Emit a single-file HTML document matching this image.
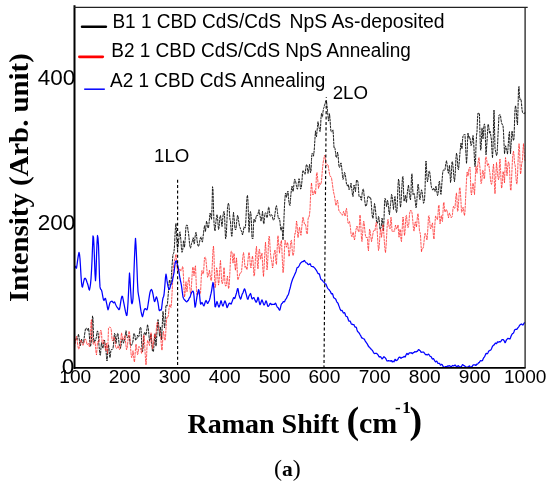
<!DOCTYPE html>
<html><head><meta charset="utf-8"><style>
html,body{margin:0;padding:0;background:#fff;}
svg{display:block;filter:blur(0.3px);}
.s{font-family:"Liberation Sans",Arial,sans-serif;}
.t{font-family:"Liberation Serif","Times New Roman",serif;font-weight:bold;}
</style></head><body>
<svg width="550" height="486" viewBox="0 0 550 486">
<rect width="550" height="486" fill="#fff"/>
<g fill="none" stroke-linejoin="round">
<path d="M74.5,344.1 75.0,342.6 75.5,339.5 76.0,338.5 76.5,338.5 77.0,339.7 77.5,338.3 78.0,336.3 78.5,334.1 79.0,337.0 79.5,341.3 80.0,345.5 80.5,345.5 81.0,342.0 81.5,339.0 82.0,340.9 82.5,342.5 83.0,343.4 83.5,343.0 84.0,339.2 84.5,335.3 85.0,331.8 85.5,328.6 86.0,328.2 86.5,328.2 87.0,328.7 87.5,330.5 88.0,330.5 88.5,328.2 89.0,331.4 89.5,338.0 90.0,343.4 90.5,346.5 91.0,343.9 91.5,339.2 92.0,329.3 92.5,315.9 93.0,318.4 93.5,336.4 94.0,342.5 94.5,339.9 95.0,341.0 95.5,340.7 96.0,338.6 96.5,336.5 97.0,332.3 97.5,330.9 98.0,332.0 98.5,338.4 99.0,345.3 99.5,351.1 100.0,355.1 100.5,355.1 101.0,347.4 101.5,342.7 102.0,344.9 102.5,347.7 103.0,348.4 103.5,344.4 104.0,341.6 104.5,340.0 105.0,343.4 105.5,346.2 106.0,350.4 106.5,357.3 107.0,361.0 107.5,356.4 108.0,348.7 108.5,344.7 109.0,348.3 109.5,354.7 110.0,357.7 110.5,353.8 111.0,349.9 111.5,349.5 112.0,349.8 112.5,349.1 113.0,348.5 113.5,344.4 114.0,338.2 114.5,333.4 115.0,334.1 115.5,339.1 116.0,343.5 116.5,340.3 117.0,336.2 117.5,333.4 118.0,333.7 118.5,337.6 119.0,343.3 119.5,345.8 120.0,346.6 120.5,348.4 121.0,345.7 121.5,342.7 122.0,338.9 122.5,340.0 123.0,341.2 123.5,343.2 124.0,341.6 124.5,339.1 125.0,336.8 125.5,333.9 126.0,330.7 126.5,333.4 127.0,337.2 127.5,337.8 128.0,336.9 128.5,336.0 129.0,335.7 129.5,337.4 130.0,342.9 130.5,345.5 131.0,345.2 131.5,345.3 132.0,344.2 132.5,343.3 133.0,340.9 133.5,335.4 134.0,333.4 134.5,333.9 135.0,336.1 135.5,340.2 136.0,339.8 136.5,339.4 137.0,338.2 137.5,335.0 138.0,337.0 138.5,336.8 139.0,336.2 139.5,332.1 140.0,328.0 140.5,327.2 141.0,328.2 141.5,339.5 142.0,349.6 142.5,352.0 143.0,348.3 143.5,341.7 144.0,334.3 144.5,332.5 145.0,332.3 145.5,334.3 146.0,335.3 146.5,332.0 147.0,328.5 147.5,324.5 148.0,326.7 148.5,330.1 149.0,335.9 149.5,341.2 150.0,340.0 150.5,336.8 151.0,333.9 151.5,339.4 152.0,346.9 152.5,351.4 153.0,351.3 153.5,351.3 154.0,345.1 154.5,338.5 155.0,333.7 155.5,339.7 156.0,346.1 156.5,340.7 157.0,332.5 157.5,325.0 158.0,319.6 158.5,322.4 159.0,329.3 159.5,336.2 160.0,332.4 160.5,326.7 161.0,334.0 161.5,339.7 162.0,330.8 162.5,319.9 163.0,311.4 163.5,316.6 164.0,322.5 164.5,327.9 165.0,323.9 165.5,314.2 166.0,305.2 166.5,305.3 167.0,306.1 167.5,303.3 168.0,297.6 168.5,290.7 169.0,283.5 169.5,279.9 170.0,282.3 170.5,284.9 171.0,283.1 171.5,274.5 172.0,266.4 172.5,259.8 173.0,254.2 173.5,253.6 174.0,251.8 174.5,245.7 175.0,235.1 175.5,226.8 176.0,223.3 176.5,232.1 177.0,244.1 177.5,249.2 178.0,246.6 178.5,241.9 179.0,237.2 179.5,232.6 180.0,231.8 180.5,236.0 181.0,241.6 181.5,249.5 182.0,252.3 182.5,251.5 183.0,247.5 183.5,240.5 184.0,243.2 184.5,247.4 185.0,241.8 185.5,233.7 186.0,226.4 186.5,225.1 187.0,225.2 187.5,225.4 188.0,230.6 188.5,232.9 189.0,237.7 189.5,243.6 190.0,246.6 190.5,248.2 191.0,246.4 191.5,243.3 192.0,242.2 192.5,240.7 193.0,237.6 193.5,238.0 194.0,244.1 194.5,243.4 195.0,237.7 195.5,233.5 196.0,232.2 196.5,234.6 197.0,239.8 197.5,243.5 198.0,245.7 198.5,246.6 199.0,245.0 199.5,242.5 200.0,239.7 200.5,237.6 201.0,236.8 201.5,239.5 202.0,241.7 202.5,241.9 203.0,237.2 203.5,233.2 204.0,229.6 204.5,225.6 205.0,227.9 205.5,231.6 206.0,226.4 206.5,221.1 207.0,222.8 207.5,225.4 208.0,228.0 208.5,227.9 209.0,223.5 209.5,218.2 210.0,213.1 210.5,214.1 211.0,217.5 211.5,219.3 212.0,208.0 212.5,186.7 213.0,189.3 213.5,208.1 214.0,222.7 214.5,228.8 215.0,231.0 215.5,226.3 216.0,221.0 216.5,216.7 217.0,214.6 217.5,216.5 218.0,223.9 218.5,229.5 219.0,227.9 219.5,221.9 220.0,216.2 220.5,215.6 221.0,219.0 221.5,223.0 222.0,226.5 222.5,221.4 223.0,216.0 223.5,212.6 224.0,211.3 224.5,213.8 225.0,226.2 225.5,238.6 226.0,238.3 226.5,230.7 227.0,219.4 227.5,207.2 228.0,204.5 228.5,203.1 229.0,205.7 229.5,213.6 230.0,219.6 230.5,221.0 231.0,229.0 231.5,236.0 232.0,236.4 232.5,226.9 233.0,217.5 233.5,212.3 234.0,217.3 234.5,222.9 235.0,228.5 235.5,230.0 236.0,228.8 236.5,223.9 237.0,219.0 237.5,215.3 238.0,215.9 238.5,220.2 239.0,222.8 239.5,226.3 240.0,227.2 240.5,229.1 241.0,230.6 241.5,230.8 242.0,232.7 242.5,235.0 243.0,233.2 243.5,230.5 244.0,226.7 244.5,227.5 245.0,228.1 245.5,227.0 246.0,217.4 246.5,205.8 247.0,197.2 247.5,195.2 248.0,201.4 248.5,218.7 249.0,232.3 249.5,226.4 250.0,213.4 250.5,211.6 251.0,214.5 251.5,223.9 252.0,237.7 252.5,239.0 253.0,238.3 253.5,224.5 254.0,219.0 254.5,220.7 255.0,222.1 255.5,220.4 256.0,217.3 256.5,215.4 257.0,215.2 257.5,215.9 258.0,213.9 258.5,211.7 259.0,209.7 259.5,212.7 260.0,215.8 260.5,218.5 261.0,221.1 261.5,219.9 262.0,215.3 262.5,211.3 263.0,216.6 263.5,223.7 264.0,223.7 264.5,218.5 265.0,213.2 265.5,212.7 266.0,213.5 266.5,215.6 267.0,217.8 267.5,215.9 268.0,211.1 268.5,207.1 269.0,207.5 269.5,211.9 270.0,215.8 270.5,216.3 271.0,215.1 271.5,214.8 272.0,215.1 272.5,216.9 273.0,219.6 273.5,220.3 274.0,219.4 274.5,217.8 275.0,213.7 275.5,209.6 276.0,206.1 276.5,205.7 277.0,208.6 277.5,212.4 278.0,216.3 278.5,219.1 279.0,218.6 279.5,218.4 280.0,222.0 280.5,227.8 281.0,230.4 281.5,228.1 282.0,226.7 282.5,233.4 283.0,240.0 283.5,231.8 284.0,217.1 284.5,205.3 285.0,197.8 285.5,193.1 286.0,193.7 286.5,197.3 287.0,195.0 287.5,191.8 288.0,191.1 288.5,197.3 289.0,202.3 289.5,204.9 290.0,205.5 290.5,199.5 291.0,193.3 291.5,188.8 292.0,186.1 292.5,188.6 293.0,191.6 293.5,189.1 294.0,183.6 294.5,179.4 295.0,179.4 295.5,181.0 296.0,183.2 296.5,186.6 297.0,188.9 297.5,189.1 298.0,186.5 298.5,181.7 299.0,178.7 299.5,180.2 300.0,183.6 300.5,189.0 301.0,188.8 301.5,186.0 302.0,180.3 302.5,172.8 303.0,170.5 303.5,170.8 304.0,172.5 304.5,173.6 305.0,174.3 305.5,171.4 306.0,166.4 306.5,164.4 307.0,165.1 307.5,168.9 308.0,173.4 308.5,171.6 309.0,168.2 309.5,164.4 310.0,167.9 310.5,172.7 311.0,171.0 311.5,159.6 312.0,153.5 312.5,153.0 313.0,153.7 313.5,156.2 314.0,152.4 314.5,146.3 315.0,138.1 315.5,130.8 316.0,135.7 316.5,136.8 317.0,131.2 317.5,126.5 318.0,121.7 318.5,125.0 319.0,127.3 319.5,129.3 320.0,131.5 320.5,128.7 321.0,117.6 321.5,113.5 322.0,116.4 322.5,117.1 323.0,111.9 323.5,108.5 324.0,107.4 324.5,105.1 325.0,104.1 325.5,102.0 326.0,100.7 326.5,101.4 327.0,105.8 327.5,110.8 328.0,116.0 328.5,121.1 329.0,118.3 329.5,113.7 330.0,118.9 330.5,127.1 331.0,131.4 331.5,131.8 332.0,131.7 332.5,131.1 333.0,129.9 333.5,137.3 334.0,147.7 334.5,147.2 335.0,148.6 335.5,152.4 336.0,156.9 336.5,157.6 337.0,155.2 337.5,152.0 338.0,154.8 338.5,160.6 339.0,166.6 339.5,167.5 340.0,166.4 340.5,164.0 341.0,162.9 341.5,165.6 342.0,170.4 342.5,176.4 343.0,179.4 343.5,178.6 344.0,175.8 344.5,172.4 345.0,173.4 345.5,175.8 346.0,180.1 346.5,184.3 347.0,185.6 347.5,185.9 348.0,184.3 348.5,186.0 349.0,189.7 349.5,189.2 350.0,187.6 350.5,185.8 351.0,183.2 351.5,186.5 352.0,190.5 352.5,195.2 353.0,196.5 353.5,191.7 354.0,185.0 354.5,187.0 355.0,188.8 355.5,191.7 356.0,185.2 356.5,180.0 357.0,180.3 357.5,180.6 358.0,182.4 358.5,188.9 359.0,196.4 359.5,197.0 360.0,196.3 360.5,196.6 361.0,199.8 361.5,200.3 362.0,194.5 362.5,190.7 363.0,189.2 363.5,189.1 364.0,194.2 364.5,198.7 365.0,202.4 365.5,206.1 366.0,206.4 366.5,205.5 367.0,202.9 367.5,198.6 368.0,196.0 368.5,196.1 369.0,196.8 369.5,198.0 370.0,197.6 370.5,197.5 371.0,199.9 371.5,206.3 372.0,213.1 372.5,217.6 373.0,218.4 373.5,213.9 374.0,209.3 374.5,203.5 375.0,205.8 375.5,209.7 376.0,215.6 376.5,221.7 377.0,223.2 377.5,223.2 378.0,220.6 378.5,216.4 379.0,217.8 379.5,223.2 380.0,229.5 380.5,228.6 381.0,227.7 381.5,224.9 382.0,218.2 382.5,220.2 383.0,225.8 383.5,231.0 384.0,219.6 384.5,203.1 385.0,198.4 385.5,199.1 386.0,202.4 386.5,206.5 387.0,204.0 387.5,200.4 388.0,202.0 388.5,207.8 389.0,212.8 389.5,214.7 390.0,208.7 390.5,204.5 391.0,200.3 391.5,194.4 392.0,195.4 392.5,199.9 393.0,204.6 393.5,209.5 394.0,203.6 394.5,198.7 395.0,196.5 395.5,202.7 396.0,210.0 396.5,212.6 397.0,210.4 397.5,198.8 398.0,185.8 398.5,179.0 399.0,181.2 399.5,189.2 400.0,202.4 400.5,207.3 401.0,203.0 401.5,194.3 402.0,184.8 402.5,177.2 403.0,176.4 403.5,189.8 404.0,201.4 404.5,200.4 405.0,197.3 405.5,195.3 406.0,200.3 406.5,202.5 407.0,196.2 407.5,191.1 408.0,187.7 408.5,185.0 409.0,189.5 409.5,194.7 410.0,198.2 410.5,200.0 411.0,191.8 411.5,176.4 412.0,173.8 412.5,184.0 413.0,194.8 413.5,194.6 414.0,193.4 414.5,194.7 415.0,199.1 415.5,203.5 416.0,207.7 416.5,205.7 417.0,198.1 417.5,189.6 418.0,184.0 418.5,185.5 419.0,191.8 419.5,197.9 420.0,199.6 420.5,196.3 421.0,192.7 421.5,189.8 422.0,191.3 422.5,194.9 423.0,199.2 423.5,203.3 424.0,202.3 424.5,200.3 425.0,190.8 425.5,170.8 426.0,161.0 426.5,167.3 427.0,178.5 427.5,182.0 428.0,178.8 428.5,175.3 429.0,171.4 429.5,170.9 430.0,174.3 430.5,179.0 431.0,184.2 431.5,187.4 432.0,188.4 432.5,189.8 433.0,190.1 433.5,188.1 434.0,189.1 434.5,189.4 435.0,191.4 435.5,188.4 436.0,186.1 436.5,188.5 437.0,192.8 437.5,195.6 438.0,194.5 438.5,188.5 439.0,182.4 439.5,181.1 440.0,186.3 440.5,192.9 441.0,194.4 441.5,188.8 442.0,181.4 442.5,174.7 443.0,170.5 443.5,170.1 444.0,170.0 444.5,170.6 445.0,169.5 445.5,166.2 446.0,162.9 446.5,160.6 447.0,163.8 447.5,168.6 448.0,171.6 448.5,173.3 449.0,168.5 449.5,165.3 450.0,172.4 450.5,182.6 451.0,179.7 451.5,170.8 452.0,161.8 452.5,161.7 453.0,166.2 453.5,172.1 454.0,178.8 454.5,181.7 455.0,176.6 455.5,168.6 456.0,157.7 456.5,153.1 457.0,155.6 457.5,161.9 458.0,168.7 458.5,169.7 459.0,164.6 459.5,158.5 460.0,152.5 460.5,147.5 461.0,143.0 461.5,147.3 462.0,148.9 462.5,140.3 463.0,136.1 463.5,135.4 464.0,134.7 464.5,134.0 465.0,134.7 465.5,144.9 466.0,155.0 466.5,163.6 467.0,156.8 467.5,141.7 468.0,133.0 468.5,137.6 469.0,138.3 469.5,136.6 470.0,138.1 470.5,142.1 471.0,145.6 471.5,145.0 472.0,142.6 472.5,139.0 473.0,135.5 473.5,138.9 474.0,148.9 474.5,161.0 475.0,166.6 475.5,162.5 476.0,145.9 476.5,135.6 477.0,131.9 477.5,118.5 478.0,113.0 478.5,113.3 479.0,112.9 479.5,115.0 480.0,134.4 480.5,149.9 481.0,150.3 481.5,139.0 482.0,127.9 482.5,132.8 483.0,138.8 483.5,132.8 484.0,124.5 484.5,124.1 485.0,126.6 485.5,142.2 486.0,154.8 486.5,149.1 487.0,141.8 487.5,133.2 488.0,124.2 488.5,125.0 489.0,128.8 489.5,133.2 490.0,131.2 490.5,133.3 491.0,137.1 491.5,140.7 492.0,151.6 492.5,157.9 493.0,149.1 493.5,126.0 494.0,110.0 494.5,126.1 495.0,148.6 495.5,151.1 496.0,153.1 496.5,155.6 497.0,154.9 497.5,146.5 498.0,134.9 498.5,124.9 499.0,115.4 499.5,114.9 500.0,114.5 500.5,115.4 501.0,119.8 501.5,122.7 502.0,123.9 502.5,125.1 503.0,125.6 503.5,131.8 504.0,142.9 504.5,153.8 505.0,150.4 505.5,145.8 506.0,147.3 506.5,148.5 507.0,151.0 507.5,154.3 508.0,148.7 508.5,140.7 509.0,134.2 509.5,131.7 510.0,144.9 510.5,153.7 511.0,145.7 511.5,137.8 512.0,131.0 512.5,133.4 513.0,138.2 513.5,140.6 514.0,138.5 514.5,123.2 515.0,109.5 515.5,105.6 516.0,108.1 516.5,113.9 517.0,121.8 517.5,125.0 518.0,108.8 518.5,89.0 519.0,86.5 519.5,96.5 520.0,99.8 520.5,98.8 521.0,99.3 521.5,103.5 522.0,109.5 522.5,112.6 523.0,113.0 523.5,113.4 524.0,113.8 524.5,113.7 525.0,111.9" stroke="#1a1a1a" stroke-width="1.0" stroke-dasharray="2.8 0.7"/>
<path d="M74.5,347.9 75.0,344.4 75.5,340.7 76.0,337.7 76.5,336.4 77.0,339.0 77.5,342.9 78.0,346.6 78.5,349.0 79.0,348.8 79.5,346.2 80.0,343.7 80.5,341.6 81.0,340.0 81.5,341.4 82.0,342.5 82.5,343.9 83.0,345.3 83.5,344.2 84.0,342.9 84.5,341.2 85.0,339.1 85.5,339.2 86.0,340.1 86.5,341.8 87.0,344.2 87.5,345.0 88.0,343.9 88.5,343.5 89.0,345.6 89.5,346.9 90.0,343.7 90.5,335.6 91.0,321.8 91.5,319.7 92.0,331.5 92.5,340.6 93.0,343.1 93.5,344.3 94.0,343.5 94.5,341.9 95.0,341.5 95.5,346.4 96.0,352.4 96.5,355.0 97.0,349.4 97.5,342.3 98.0,341.4 98.5,342.7 99.0,342.0 99.5,338.0 100.0,333.7 100.5,330.5 101.0,330.3 101.5,331.8 102.0,341.8 102.5,343.6 103.0,342.4 103.5,339.8 104.0,342.5 104.5,345.1 105.0,347.4 105.5,350.4 106.0,347.2 106.5,343.3 107.0,350.3 107.5,353.5 108.0,342.3 108.5,328.2 109.0,327.4 109.5,327.2 110.0,327.0 110.5,327.5 111.0,328.0 111.5,332.3 112.0,339.0 112.5,340.9 113.0,340.3 113.5,338.9 114.0,336.8 114.5,339.0 115.0,342.0 115.5,346.3 116.0,348.2 116.5,348.2 117.0,348.3 117.5,347.7 118.0,345.7 118.5,348.0 119.0,349.1 119.5,349.4 120.0,349.1 120.5,342.9 121.0,337.5 121.5,332.9 122.0,335.2 122.5,339.0 123.0,339.9 123.5,338.8 124.0,337.7 124.5,336.3 125.0,335.6 125.5,340.8 126.0,345.7 126.5,349.7 127.0,348.9 127.5,345.1 128.0,340.7 128.5,335.0 129.0,331.1 129.5,332.4 130.0,337.6 130.5,346.6 131.0,353.4 131.5,357.4 132.0,357.4 132.5,354.3 133.0,350.7 133.5,354.5 134.0,360.5 134.5,362.1 135.0,356.0 135.5,348.5 136.0,344.0 136.5,347.0 137.0,350.6 137.5,354.7 138.0,353.5 138.5,350.2 139.0,346.4 139.5,347.5 140.0,348.0 140.5,348.4 141.0,350.6 141.5,353.5 142.0,351.9 142.5,348.1 143.0,341.8 143.5,335.2 144.0,335.3 144.5,341.3 145.0,350.9 145.5,359.1 146.0,365.0 146.5,358.6 147.0,346.5 147.5,340.4 148.0,341.2 148.5,342.5 149.0,344.2 149.5,345.5 150.0,341.3 150.5,336.6 151.0,332.6 151.5,336.8 152.0,342.4 152.5,348.7 153.0,347.0 153.5,343.9 154.0,339.8 154.5,333.9 155.0,336.3 155.5,337.7 156.0,334.9 156.5,326.5 157.0,322.6 157.5,322.3 158.0,325.1 158.5,329.2 159.0,329.6 159.5,329.6 160.0,331.6 160.5,335.5 161.0,340.9 161.5,347.1 162.0,350.3 162.5,343.4 163.0,335.1 163.5,331.3 164.0,334.6 164.5,338.3 165.0,340.5 165.5,337.7 166.0,328.3 166.5,320.1 167.0,317.1 167.5,317.7 168.0,316.9 168.5,314.7 169.0,308.7 169.5,305.8 170.0,304.5 170.5,307.0 171.0,307.5 171.5,303.4 172.0,294.2 172.5,284.2 173.0,274.5 173.5,266.0 174.0,263.1 174.5,259.9 175.0,258.6 175.5,256.7 176.0,254.3 176.5,261.6 177.0,267.7 177.5,270.2 178.0,271.1 178.5,271.2 179.0,269.2 179.5,269.4 180.0,268.8 180.5,270.6 181.0,270.8 181.5,270.7 182.0,269.4 182.5,266.5 183.0,267.8 183.5,277.7 184.0,288.7 184.5,297.1 185.0,294.3 185.5,286.4 186.0,281.7 186.5,287.2 187.0,291.8 187.5,286.8 188.0,282.6 188.5,279.5 189.0,277.5 189.5,283.8 190.0,289.6 190.5,293.2 191.0,294.1 191.5,285.5 192.0,276.7 192.5,269.1 193.0,267.0 193.5,270.9 194.0,275.8 194.5,271.8 195.0,267.3 195.5,265.8 196.0,277.8 196.5,290.7 197.0,295.0 197.5,294.3 198.0,291.9 198.5,293.0 199.0,294.6 199.5,294.4 200.0,294.2 200.5,293.9 201.0,282.8 201.5,272.9 202.0,270.5 202.5,272.8 203.0,274.1 203.5,273.6 204.0,265.5 204.5,257.6 205.0,257.4 205.5,257.2 206.0,260.5 206.5,265.7 207.0,271.0 207.5,277.2 208.0,277.0 208.5,275.1 209.0,272.6 209.5,270.1 210.0,274.0 210.5,278.2 211.0,280.5 211.5,280.4 212.0,270.9 212.5,259.6 213.0,249.9 213.5,246.0 214.0,254.8 214.5,275.0 215.0,287.9 215.5,286.9 216.0,277.1 216.5,267.9 217.0,268.3 217.5,272.6 218.0,279.3 218.5,285.1 219.0,282.4 219.5,273.0 220.0,265.3 220.5,260.5 221.0,269.0 221.5,279.3 222.0,283.8 222.5,283.4 223.0,280.6 223.5,274.9 224.0,267.4 224.5,273.7 225.0,283.8 225.5,286.0 226.0,286.1 226.5,284.1 227.0,278.7 227.5,276.0 228.0,282.2 228.5,288.7 229.0,287.3 229.5,280.0 230.0,269.8 230.5,258.9 231.0,251.5 231.5,251.2 232.0,252.7 232.5,258.2 233.0,263.1 233.5,259.1 234.0,253.4 234.5,257.3 235.0,266.6 235.5,270.5 236.0,263.6 236.5,257.9 237.0,265.4 237.5,277.7 238.0,279.9 238.5,278.1 239.0,276.7 239.5,274.8 240.0,272.8 240.5,273.1 241.0,272.7 241.5,271.8 242.0,266.5 242.5,260.6 243.0,255.4 243.5,252.6 244.0,255.5 244.5,262.1 245.0,267.4 245.5,266.2 246.0,266.2 246.5,269.0 247.0,269.7 247.5,265.7 248.0,260.0 248.5,255.0 249.0,252.3 249.5,255.2 250.0,261.2 250.5,266.6 251.0,267.9 251.5,263.1 252.0,258.7 252.5,256.0 253.0,259.8 253.5,269.1 254.0,276.1 254.5,275.3 255.0,266.4 255.5,257.2 256.0,250.0 256.5,246.4 257.0,255.3 257.5,265.7 258.0,269.0 258.5,260.3 259.0,249.6 259.5,249.4 260.0,253.9 260.5,259.2 261.0,257.9 261.5,254.5 262.0,253.0 262.5,262.0 263.0,270.8 263.5,276.6 264.0,269.0 264.5,259.2 265.0,249.8 265.5,242.2 266.0,249.6 266.5,259.3 267.0,269.9 267.5,265.5 268.0,255.4 268.5,242.3 269.0,236.2 269.5,236.9 270.0,246.6 270.5,253.6 271.0,258.1 271.5,260.6 272.0,262.8 272.5,268.0 273.0,266.5 273.5,258.2 274.0,253.8 274.5,252.1 275.0,250.0 275.5,255.7 276.0,263.0 276.5,264.5 277.0,252.3 277.5,241.7 278.0,235.7 278.5,242.1 279.0,247.6 279.5,253.2 280.0,246.8 280.5,243.5 281.0,242.0 281.5,240.3 282.0,252.3 282.5,263.3 283.0,272.8 283.5,270.4 284.0,260.4 284.5,249.7 285.0,240.3 285.5,241.6 286.0,244.6 286.5,247.2 287.0,244.7 287.5,242.4 288.0,244.3 288.5,250.8 289.0,256.5 289.5,254.8 290.0,249.6 290.5,244.3 291.0,240.7 291.5,240.4 292.0,247.4 292.5,253.2 293.0,255.7 293.5,254.4 294.0,250.7 294.5,237.1 295.0,232.9 295.5,233.3 296.0,228.0 296.5,221.0 297.0,223.6 297.5,231.7 298.0,237.7 298.5,234.3 299.0,230.4 299.5,227.2 300.0,229.9 300.5,233.9 301.0,235.3 301.5,230.4 302.0,225.1 302.5,220.1 303.0,217.1 303.5,219.3 304.0,222.0 304.5,224.2 305.0,223.8 305.5,224.6 306.0,227.2 306.5,232.8 307.0,234.1 307.5,232.9 308.0,219.6 308.5,217.2 309.0,217.2 309.5,214.5 310.0,209.8 310.5,197.1 311.0,188.7 311.5,182.8 312.0,188.1 312.5,193.4 313.0,195.0 313.5,193.2 314.0,192.0 314.5,190.5 315.0,193.3 315.5,194.3 316.0,186.0 316.5,173.3 317.0,172.6 317.5,177.1 318.0,182.5 318.5,188.4 319.0,186.9 319.5,183.1 320.0,183.3 320.5,184.6 321.0,183.6 321.5,181.1 322.0,174.6 322.5,168.3 323.0,163.8 323.5,160.3 324.0,158.1 324.5,155.3 325.0,155.8 325.5,160.5 326.0,164.9 326.5,165.5 327.0,164.9 327.5,164.4 328.0,164.5 328.5,167.8 329.0,170.8 329.5,173.8 330.0,176.2 330.5,176.5 331.0,176.7 331.5,177.9 332.0,181.3 332.5,184.8 333.0,188.7 333.5,191.8 334.0,194.0 334.5,196.0 335.0,199.8 335.5,203.2 336.0,205.6 336.5,203.2 337.0,201.2 337.5,200.1 338.0,203.5 338.5,208.2 339.0,211.0 339.5,211.4 340.0,212.3 340.5,212.8 341.0,213.2 341.5,214.7 342.0,214.8 342.5,215.2 343.0,213.8 343.5,211.4 344.0,212.0 344.5,214.4 345.0,216.2 345.5,214.6 346.0,209.7 346.5,208.4 347.0,212.2 347.5,218.3 348.0,223.1 348.5,223.3 349.0,221.8 349.5,221.6 350.0,224.3 350.5,228.4 351.0,233.6 351.5,235.8 352.0,236.8 352.5,234.9 353.0,232.2 353.5,233.0 354.0,238.2 354.5,239.9 355.0,237.1 355.5,232.6 356.0,229.6 356.5,227.6 357.0,226.1 357.5,228.2 358.0,229.9 358.5,231.6 359.0,231.9 359.5,223.1 360.0,214.9 360.5,219.6 361.0,228.9 361.5,238.9 362.0,241.5 362.5,235.6 363.0,228.2 363.5,221.5 364.0,221.4 364.5,226.5 365.0,232.2 365.5,236.0 366.0,237.1 366.5,238.0 367.0,237.2 367.5,238.7 368.0,248.3 368.5,250.8 369.0,240.2 369.5,229.1 370.0,230.3 370.5,233.9 371.0,237.9 371.5,241.6 372.0,239.2 372.5,236.8 373.0,233.2 373.5,231.1 374.0,230.3 374.5,230.3 375.0,230.8 375.5,226.5 376.0,223.0 376.5,222.2 377.0,228.3 377.5,236.1 378.0,244.5 378.5,250.5 379.0,248.4 379.5,242.2 380.0,234.1 380.5,228.9 381.0,231.9 381.5,237.3 382.0,233.7 382.5,228.8 383.0,224.4 383.5,227.9 384.0,236.1 384.5,243.8 385.0,249.6 385.5,252.7 386.0,247.3 386.5,238.6 387.0,229.1 387.5,221.7 388.0,219.5 388.5,223.2 389.0,226.2 389.5,227.7 390.0,228.8 390.5,222.7 391.0,217.2 391.5,221.9 392.0,230.8 392.5,232.1 393.0,231.5 393.5,231.3 394.0,230.8 394.5,231.4 395.0,227.9 395.5,225.1 396.0,227.0 396.5,228.7 397.0,228.8 397.5,227.8 398.0,224.8 398.5,231.0 399.0,237.2 399.5,232.7 400.0,229.2 400.5,230.2 401.0,240.3 401.5,241.6 402.0,232.5 402.5,223.0 403.0,217.0 403.5,220.0 404.0,229.4 404.5,235.6 405.0,231.9 405.5,223.0 406.0,215.8 406.5,215.4 407.0,221.3 407.5,226.9 408.0,227.6 408.5,226.6 409.0,222.0 409.5,214.2 410.0,211.6 410.5,210.4 411.0,211.3 411.5,210.7 412.0,212.8 412.5,217.3 413.0,223.3 413.5,228.7 414.0,231.1 414.5,228.2 415.0,222.4 415.5,221.8 416.0,224.9 416.5,227.2 417.0,221.3 417.5,215.7 418.0,213.6 418.5,218.4 419.0,224.2 419.5,231.5 420.0,232.5 420.5,235.0 421.0,244.6 421.5,252.0 422.0,248.4 422.5,248.7 423.0,248.2 423.5,246.9 424.0,241.8 424.5,236.4 425.0,233.2 425.5,233.6 426.0,235.3 426.5,238.2 427.0,240.0 427.5,234.6 428.0,225.8 428.5,216.2 429.0,215.7 429.5,219.1 430.0,224.6 430.5,228.8 431.0,228.3 431.5,226.6 432.0,224.3 432.5,222.9 433.0,230.3 433.5,236.6 434.0,239.2 434.5,230.7 435.0,222.6 435.5,216.2 436.0,216.3 436.5,217.6 437.0,218.8 437.5,219.8 438.0,214.3 438.5,206.1 439.0,205.1 439.5,213.7 440.0,223.8 440.5,221.2 441.0,216.8 441.5,215.5 442.0,220.5 442.5,221.5 443.0,211.6 443.5,202.8 444.0,202.3 444.5,209.9 445.0,212.1 445.5,211.3 446.0,209.5 446.5,209.5 447.0,211.0 447.5,212.7 448.0,215.4 448.5,217.9 449.0,214.6 449.5,212.9 450.0,214.7 450.5,215.5 451.0,217.6 451.5,217.4 452.0,216.8 452.5,214.1 453.0,208.5 453.5,206.3 454.0,207.1 454.5,208.3 455.0,207.9 455.5,201.2 456.0,195.7 456.5,192.9 457.0,200.3 457.5,211.4 458.0,210.3 458.5,203.9 459.0,195.9 459.5,188.2 460.0,187.5 460.5,193.6 461.0,201.9 461.5,212.3 462.0,211.4 462.5,210.2 463.0,207.3 463.5,208.1 464.0,213.4 464.5,215.6 465.0,211.6 465.5,200.7 466.0,190.4 466.5,180.4 467.0,172.0 467.5,172.4 468.0,176.1 468.5,172.1 469.0,168.7 469.5,167.9 470.0,167.1 470.5,179.9 471.0,192.3 471.5,195.0 472.0,190.9 472.5,186.2 473.0,183.1 473.5,184.6 474.0,191.2 474.5,194.6 475.0,185.0 475.5,172.6 476.0,166.4 476.5,169.9 477.0,173.3 477.5,168.1 478.0,162.9 478.5,160.0 479.0,157.5 479.5,162.8 480.0,168.3 480.5,175.4 481.0,183.6 481.5,182.7 482.0,178.5 482.5,170.4 483.0,170.4 483.5,172.3 484.0,178.3 484.5,179.0 485.0,169.8 485.5,157.6 486.0,156.8 486.5,158.4 487.0,162.1 487.5,165.8 488.0,165.5 488.5,163.7 489.0,165.9 489.5,170.7 490.0,173.6 490.5,180.1 491.0,183.1 491.5,184.4 492.0,183.0 492.5,174.3 493.0,168.6 493.5,164.2 494.0,171.0 494.5,186.2 495.0,193.8 495.5,183.3 496.0,172.0 496.5,162.5 497.0,167.4 497.5,173.5 498.0,177.3 498.5,179.7 499.0,178.3 499.5,163.3 500.0,159.0 500.5,168.7 501.0,179.4 501.5,188.3 502.0,186.8 502.5,179.1 503.0,171.5 503.5,172.0 504.0,178.3 504.5,183.0 505.0,169.4 505.5,157.6 506.0,161.9 506.5,169.8 507.0,175.7 507.5,169.5 508.0,163.8 508.5,161.8 509.0,162.8 509.5,168.4 510.0,180.2 510.5,189.8 511.0,190.5 511.5,180.9 512.0,169.3 512.5,158.6 513.0,153.9 513.5,151.1 514.0,155.1 514.5,163.0 515.0,164.7 515.5,168.7 516.0,178.1 516.5,183.1 517.0,184.1 517.5,176.6 518.0,162.9 518.5,150.4 519.0,143.7 519.5,147.2 520.0,162.9 520.5,174.1 521.0,172.0 521.5,165.0 522.0,162.2 522.5,160.3 523.0,150.3 523.5,143.6 524.0,149.3 524.5,157.3 525.0,160.9" stroke="#ff2a2a" stroke-width="0.9" stroke-dasharray="2.8 0.7" stroke-opacity="0.88"/>
<path d="M74.5,267.6 75.0,266.1 75.5,266.7 76.0,268.0 76.5,268.2 77.0,265.0 77.5,261.1 78.0,257.7 78.5,254.6 79.0,252.4 79.5,254.4 80.0,259.0 80.5,266.7 81.0,275.8 81.5,282.5 82.0,286.5 82.5,287.1 83.0,284.8 83.5,282.3 84.0,280.2 84.5,278.5 85.0,278.2 85.5,278.6 86.0,279.3 86.5,280.7 87.0,282.2 87.5,283.5 88.0,285.2 88.5,287.4 89.0,289.4 89.5,290.0 90.0,287.5 90.5,284.1 91.0,278.9 91.5,270.7 92.0,261.1 92.5,247.7 93.0,235.9 93.5,237.4 94.0,246.1 94.5,259.5 95.0,273.8 95.5,280.6 96.0,273.9 96.5,256.4 97.0,243.3 97.5,235.5 98.0,238.2 98.5,245.5 99.0,260.0 99.5,277.7 100.0,286.9 100.5,288.9 101.0,289.5 101.5,290.2 102.0,292.0 102.5,294.8 103.0,297.6 103.5,299.8 104.0,300.5 104.5,299.5 105.0,298.4 105.5,298.4 106.0,300.3 106.5,302.8 107.0,305.2 107.5,307.8 108.0,309.8 108.5,308.6 109.0,306.4 109.5,304.3 110.0,302.6 110.5,301.9 111.0,301.5 111.5,301.3 112.0,301.2 112.5,301.6 113.0,302.4 113.5,302.9 114.0,302.4 114.5,301.9 115.0,302.9 115.5,304.3 116.0,305.3 116.5,306.2 117.0,307.1 117.5,307.7 118.0,308.4 118.5,309.2 119.0,309.7 119.5,309.1 120.0,306.7 120.5,303.3 121.0,300.1 121.5,297.7 122.0,296.2 122.5,296.5 123.0,298.8 123.5,301.4 124.0,303.9 124.5,306.5 125.0,309.2 125.5,311.7 126.0,313.6 126.5,315.5 127.0,315.2 127.5,309.8 128.0,302.7 128.5,293.0 129.0,281.5 129.5,273.0 130.0,278.9 130.5,288.0 131.0,296.1 131.5,302.8 132.0,303.8 132.5,302.4 133.0,298.3 133.5,285.4 134.0,270.8 134.5,257.6 135.0,245.8 135.5,238.3 136.0,245.4 136.5,256.3 137.0,269.1 137.5,282.5 138.0,291.6 138.5,295.0 139.0,297.6 139.5,300.8 140.0,304.5 140.5,308.1 141.0,311.2 141.5,313.6 142.0,315.7 142.5,316.7 143.0,315.0 143.5,312.7 144.0,310.5 144.5,309.3 145.0,308.7 145.5,308.6 146.0,309.2 146.5,309.7 147.0,309.8 147.5,308.0 148.0,305.0 148.5,301.6 149.0,298.4 149.5,295.2 150.0,292.4 150.5,290.6 151.0,289.9 151.5,289.5 152.0,290.3 152.5,292.0 153.0,294.2 153.5,297.1 154.0,300.0 154.5,301.6 155.0,301.0 155.5,299.4 156.0,297.7 156.5,296.9 157.0,298.2 157.5,300.3 158.0,302.6 158.5,306.0 159.0,309.6 159.5,310.6 160.0,309.9 160.5,309.9 161.0,310.2 161.5,309.1 162.0,305.0 162.5,300.7 163.0,297.9 163.5,296.7 164.0,295.0 164.5,289.8 165.0,283.8 165.5,277.4 166.0,274.2 166.5,276.7 167.0,280.7 167.5,283.7 168.0,286.4 168.5,288.1 169.0,289.2 169.5,289.3 170.0,287.7 170.5,285.9 171.0,284.6 171.5,283.5 172.0,282.2 172.5,280.0 173.0,277.3 173.5,275.1 174.0,272.6 174.5,268.4 175.0,264.0 175.5,261.7 176.0,260.9 176.5,261.1 177.0,262.5 177.5,264.6 178.0,267.0 178.5,269.3 179.0,272.2 179.5,275.6 180.0,278.5 180.5,280.8 181.0,283.1 181.5,286.0 182.0,289.7 182.5,293.5 183.0,297.0 183.5,298.2 184.0,299.1 184.5,299.9 185.0,300.1 185.5,300.8 186.0,301.5 186.5,301.8 187.0,301.8 187.5,300.9 188.0,300.6 188.5,300.0 189.0,298.6 189.5,297.7 190.0,297.2 190.5,295.7 191.0,293.9 191.5,292.7 192.0,291.9 192.5,291.5 193.0,291.1 193.5,292.2 194.0,296.1 194.5,302.0 195.0,307.2 195.5,306.1 196.0,303.0 196.5,299.7 197.0,296.4 197.5,294.0 198.0,291.8 198.5,289.6 199.0,290.3 199.5,294.2 200.0,299.6 200.5,304.0 201.0,304.0 201.5,303.0 202.0,302.5 202.5,303.3 203.0,304.5 203.5,305.5 204.0,305.9 204.5,304.5 205.0,302.7 205.5,301.3 206.0,300.5 206.5,301.2 207.0,302.5 207.5,303.4 208.0,303.1 208.5,301.8 209.0,301.1 209.5,299.9 210.0,298.0 210.5,295.6 211.0,293.7 211.5,291.3 212.0,288.1 212.5,284.8 213.0,282.5 213.5,284.3 214.0,291.2 214.5,299.6 215.0,306.6 215.5,306.8 216.0,305.0 216.5,302.9 217.0,301.5 217.5,302.9 218.0,304.7 218.5,306.2 219.0,307.1 219.5,306.0 220.0,304.4 220.5,302.3 221.0,300.7 221.5,301.8 222.0,303.9 222.5,305.6 223.0,306.0 223.5,304.6 224.0,303.3 224.5,301.8 225.0,300.9 225.5,302.0 226.0,303.5 226.5,305.7 227.0,307.7 227.5,307.1 228.0,305.6 228.5,304.6 229.0,303.6 229.5,303.2 230.0,303.1 230.5,303.6 231.0,304.2 231.5,303.4 232.0,301.9 232.5,300.5 233.0,299.1 233.5,297.7 234.0,297.7 234.5,298.5 235.0,298.1 235.5,296.2 236.0,294.6 236.5,293.0 237.0,290.9 237.5,288.7 238.0,288.7 238.5,291.7 239.0,294.9 239.5,296.5 240.0,298.0 240.5,299.1 241.0,298.3 241.5,296.6 242.0,294.7 242.5,293.6 243.0,292.7 243.5,291.3 244.0,289.8 244.5,288.9 245.0,289.7 245.5,291.5 246.0,293.4 246.5,295.4 247.0,297.4 247.5,299.0 248.0,299.3 248.5,297.6 249.0,295.9 249.5,295.3 250.0,294.4 250.5,293.5 251.0,294.8 251.5,297.1 252.0,298.9 252.5,298.8 253.0,298.2 253.5,297.6 254.0,297.6 254.5,298.9 255.0,300.1 255.5,301.1 256.0,302.2 256.5,301.9 257.0,300.8 257.5,299.0 258.0,297.3 258.5,298.2 259.0,300.9 259.5,303.3 260.0,304.7 260.5,303.9 261.0,302.3 261.5,300.8 262.0,299.9 262.5,301.1 263.0,302.5 263.5,304.0 264.0,305.0 264.5,304.5 265.0,303.4 265.5,301.9 266.0,300.8 266.5,301.7 267.0,303.5 267.5,305.4 268.0,306.4 268.5,306.2 269.0,305.5 269.5,304.6 270.0,303.6 270.5,303.3 271.0,304.0 271.5,304.6 272.0,304.4 272.5,304.3 273.0,304.5 273.5,304.4 274.0,304.3 274.5,304.3 275.0,303.6 275.5,303.2 276.0,304.0 276.5,305.5 277.0,306.5 277.5,307.3 278.0,307.6 278.5,308.3 279.0,309.4 279.5,310.2 280.0,309.7 280.5,307.6 281.0,305.3 281.5,303.9 282.0,303.4 282.5,303.0 283.0,302.0 283.5,301.6 284.0,301.8 284.5,301.6 285.0,300.6 285.5,299.5 286.0,298.9 286.5,298.3 287.0,297.0 287.5,295.8 288.0,295.2 288.5,294.2 289.0,292.3 289.5,290.1 290.0,288.5 290.5,286.7 291.0,284.3 291.5,282.6 292.0,281.0 292.5,279.5 293.0,278.3 293.5,277.2 294.0,276.1 294.5,274.9 295.0,273.8 295.5,272.9 296.0,271.5 296.5,269.6 297.0,267.9 297.5,267.3 298.0,267.3 298.5,266.9 299.0,266.0 299.5,265.0 300.0,263.9 300.5,263.1 301.0,262.6 301.5,262.3 302.0,261.8 302.5,261.5 303.0,261.7 303.5,261.5 304.0,260.6 304.5,260.5 305.0,261.3 305.5,262.0 306.0,262.7 306.5,262.9 307.0,263.0 307.5,263.7 308.0,264.5 308.5,264.7 309.0,264.5 309.5,264.0 310.0,263.7 310.5,264.4 311.0,265.8 311.5,266.4 312.0,266.5 312.5,266.5 313.0,266.6 313.5,266.9 314.0,267.4 314.5,267.9 315.0,268.4 315.5,269.1 316.0,269.8 316.5,270.5 317.0,271.5 317.5,272.5 318.0,273.4 318.5,273.8 319.0,273.6 319.5,274.3 320.0,276.3 320.5,278.2 321.0,279.4 321.5,279.9 322.0,280.0 322.5,280.4 323.0,281.3 323.5,282.0 324.0,282.1 324.5,282.7 325.0,283.7 325.5,284.0 326.0,284.2 326.5,285.5 327.0,286.9 327.5,287.8 328.0,288.6 328.5,289.2 329.0,289.6 329.5,290.4 330.0,291.0 330.5,291.7 331.0,293.1 331.5,293.9 332.0,293.6 332.5,293.7 333.0,295.2 333.5,297.2 334.0,298.0 334.5,298.2 335.0,298.5 335.5,298.9 336.0,299.8 336.5,301.3 337.0,302.2 337.5,302.5 338.0,303.3 338.5,304.7 339.0,306.1 339.5,307.4 340.0,308.8 340.5,309.9 341.0,310.5 341.5,310.5 342.0,310.4 342.5,311.1 343.0,312.4 343.5,313.0 344.0,312.9 344.5,312.6 345.0,313.5 345.5,315.2 346.0,316.2 346.5,316.5 347.0,316.6 347.5,317.2 348.0,318.7 348.5,320.3 349.0,321.1 349.5,321.1 350.0,321.0 350.5,321.8 351.0,323.2 351.5,324.1 352.0,324.1 352.5,324.4 353.0,324.7 353.5,324.6 354.0,324.7 354.5,325.9 355.0,327.0 355.5,327.0 356.0,327.0 356.5,327.9 357.0,329.9 357.5,331.4 358.0,331.9 358.5,332.2 359.0,332.8 359.5,333.6 360.0,334.5 360.5,335.3 361.0,336.3 361.5,337.4 362.0,338.1 362.5,338.1 363.0,338.5 363.5,338.8 364.0,338.8 364.5,339.4 365.0,340.6 365.5,341.4 366.0,342.1 366.5,342.9 367.0,343.5 367.5,344.3 368.0,345.4 368.5,346.4 369.0,347.0 369.5,347.2 370.0,347.9 370.5,348.5 371.0,349.0 371.5,349.6 372.0,350.1 372.5,350.5 373.0,351.5 373.5,352.6 374.0,353.2 374.5,353.6 375.0,353.4 375.5,353.3 376.0,353.4 376.5,353.4 377.0,353.7 377.5,354.3 378.0,354.9 378.5,355.7 379.0,356.7 379.5,357.0 380.0,356.6 380.5,356.8 381.0,357.3 381.5,358.0 382.0,358.8 382.5,358.7 383.0,357.9 383.5,357.1 384.0,356.7 384.5,357.2 385.0,357.6 385.5,358.1 386.0,358.9 386.5,360.0 387.0,360.8 387.5,361.0 388.0,360.8 388.5,360.6 389.0,360.8 389.5,360.9 390.0,360.8 390.5,361.1 391.0,360.6 391.5,360.6 392.0,361.7 392.5,361.9 393.0,361.1 393.5,361.3 394.0,361.8 394.5,360.7 395.0,359.3 395.5,359.6 396.0,360.6 396.5,360.6 397.0,360.2 397.5,359.9 398.0,359.2 398.5,358.0 399.0,357.3 399.5,357.2 400.0,357.2 400.5,357.7 401.0,358.3 401.5,358.0 402.0,357.4 402.5,357.3 403.0,357.3 403.5,356.9 404.0,356.3 404.5,356.6 405.0,357.0 405.5,356.4 406.0,355.0 406.5,354.0 407.0,353.4 407.5,354.0 408.0,354.6 408.5,354.1 409.0,353.2 409.5,352.8 410.0,353.0 410.5,352.9 411.0,352.7 411.5,352.9 412.0,353.5 412.5,353.6 413.0,352.9 413.5,352.6 414.0,352.5 414.5,351.9 415.0,351.6 415.5,351.8 416.0,351.9 416.5,351.6 417.0,351.3 417.5,351.1 418.0,350.3 418.5,349.6 419.0,349.7 419.5,350.3 420.0,350.5 420.5,351.2 421.0,352.1 421.5,352.3 422.0,352.0 422.5,352.0 423.0,352.1 423.5,352.1 424.0,352.5 424.5,353.3 425.0,353.9 425.5,354.6 426.0,354.6 426.5,354.5 427.0,354.9 427.5,354.9 428.0,354.3 428.5,354.1 429.0,354.6 429.5,355.5 430.0,356.2 430.5,356.4 431.0,356.5 431.5,357.3 432.0,358.5 432.5,359.0 433.0,358.7 433.5,358.7 434.0,359.5 434.5,360.3 435.0,361.1 435.5,361.8 436.0,361.6 436.5,361.1 437.0,361.5 437.5,362.6 438.0,363.3 438.5,363.4 439.0,363.3 439.5,363.4 440.0,364.3 440.5,365.1 441.0,364.8 441.5,364.3 442.0,364.5 442.5,365.1 443.0,366.1 443.5,367.0 444.0,367.0 444.5,367.0 445.0,366.9 445.5,366.7 446.0,366.6 446.5,366.5 447.0,366.4 447.5,366.1 448.0,365.9 448.5,366.1 449.0,365.9 449.5,365.7 450.0,366.0 450.5,366.5 451.0,366.9 451.5,366.7 452.0,366.0 452.5,365.5 453.0,365.7 453.5,365.9 454.0,365.8 454.5,365.4 455.0,365.0 455.5,365.5 456.0,366.2 456.5,366.4 457.0,366.4 457.5,366.3 458.0,365.8 458.5,365.7 459.0,366.5 459.5,367.0 460.0,367.0 460.5,366.9 461.0,367.0 461.5,366.6 462.0,365.5 462.5,364.7 463.0,364.9 463.5,365.4 464.0,365.6 464.5,365.8 465.0,366.2 465.5,366.8 466.0,367.0 466.5,367.0 467.0,367.0 467.5,367.0 468.0,366.9 468.5,366.8 469.0,366.0 469.5,365.9 470.0,366.7 470.5,367.0 471.0,367.0 471.5,367.0 472.0,366.6 472.5,365.8 473.0,365.1 473.5,364.8 474.0,364.8 474.5,364.8 475.0,364.8 475.5,365.3 476.0,365.4 476.5,364.4 477.0,364.1 477.5,364.2 478.0,363.6 478.5,362.9 479.0,362.7 479.5,362.2 480.0,361.3 480.5,360.7 481.0,360.7 481.5,360.8 482.0,360.8 482.5,360.4 483.0,359.2 483.5,358.1 484.0,357.4 484.5,356.8 485.0,355.9 485.5,354.6 486.0,353.6 486.5,353.4 487.0,353.7 487.5,353.7 488.0,352.8 488.5,351.4 489.0,350.8 489.5,350.6 490.0,350.3 490.5,350.1 491.0,349.7 491.5,348.8 492.0,347.4 492.5,346.3 493.0,345.7 493.5,345.2 494.0,345.0 494.5,344.5 495.0,343.5 495.5,343.1 496.0,343.4 496.5,343.7 497.0,342.9 497.5,341.9 498.0,342.1 498.5,342.2 499.0,341.8 499.5,341.6 500.0,341.8 500.5,341.8 501.0,341.1 501.5,340.3 502.0,339.8 502.5,339.5 503.0,339.5 503.5,340.0 504.0,340.5 504.5,341.6 505.0,342.7 505.5,342.2 506.0,340.9 506.5,339.9 507.0,339.3 507.5,338.7 508.0,338.3 508.5,338.6 509.0,338.6 509.5,338.9 510.0,338.9 510.5,337.7 511.0,336.3 511.5,335.3 512.0,334.3 512.5,333.5 513.0,333.3 513.5,333.0 514.0,331.8 514.5,330.3 515.0,329.5 515.5,329.3 516.0,329.4 516.5,329.4 517.0,329.1 517.5,328.5 518.0,327.7 518.5,327.1 519.0,326.4 519.5,325.5 520.0,324.8 520.5,324.6 521.0,324.1 521.5,324.0 522.0,324.5 522.5,324.9 523.0,325.0 523.5,324.2 524.0,323.2 524.5,322.8 525.0,322.6" stroke="#0000ff" stroke-width="1.25"/>
</g>
<g stroke="#000" stroke-width="1.15" stroke-dasharray="3.1 2.4" fill="none">
<line x1="177.6" y1="179.75" x2="177.6" y2="367" stroke-dasharray="3 2.36"/>
<line x1="326.3" y1="97.2" x2="324.0" y2="367" stroke-dasharray="3.05 2.36" stroke-dashoffset="2.32"/>
</g>
<g stroke="#000" fill="none">
<line x1="74.5" y1="5.2" x2="74.5" y2="368.9" stroke-width="2"/>
<line x1="73.7" y1="367.8" x2="525.6" y2="367.8" stroke-width="1.7"/>
<line x1="74" y1="7.35" x2="527.7" y2="7.35" stroke-width="1.1" stroke="#222"/>
<line x1="525.1" y1="7" x2="525.1" y2="368" stroke-width="1.3" stroke="#222"/>
</g>
<line x1="82" y1="26.75" x2="105.9" y2="26.75" stroke="#000" stroke-width="2.5" stroke-linecap="round"/>
<line x1="79.3" y1="56.85" x2="102.8" y2="56.85" stroke="#f00" stroke-width="2.6" stroke-linecap="round"/>
<line x1="84.2" y1="89.2" x2="104.8" y2="89.2" stroke="#00f" stroke-width="1.5"/>
<g class="s" font-size="19" fill="#000">
<text x="112.4" y="27.7" transform="translate(0,27.7) scale(1,1.07) translate(0,-27.7)">B1 1 CBD CdS/CdS <tspan x="289.4" font-size="19.4">NpS As-deposited</tspan></text>
<text x="111.3" y="56.8" transform="translate(0,56.8) scale(1,1.07) translate(0,-56.8)">B2 1 CBD CdS/CdS NpS Annealing</text>
<text x="110" y="86.6" transform="translate(0,86.6) scale(1,1.07) translate(0,-86.6)">A2 1 CBD CdS Annealing</text>
</g>
<g class="s" font-size="18.7" fill="#000">
<text x="154.0" y="162.3">1LO</text>
<text x="332.7" y="99.2">2LO</text>
</g>
<g class="s" font-size="22.5" fill="#000" text-anchor="end">
<text x="75.2" y="84.9">400</text>
<text x="75.2" y="229.6">200</text>
<text x="74.3" y="374.4">0</text>
</g>
<g class="s" font-size="19.1" fill="#000" text-anchor="middle">
<text x="75.3" y="383.3">100</text>
<text x="124.6" y="383.3">200</text>
<text x="174.7" y="383.3">300</text>
<text x="224.8" y="383.3">400</text>
<text x="274.6" y="383.3">500</text>
<text x="324.4" y="383.3">600</text>
<text x="374.6" y="383.3">700</text>
<text x="424.7" y="383.3">800</text>
<text x="474.8" y="383.3">900</text>
<text x="525.2" y="383.3">1000</text>
</g>
<text class="t" font-size="28.8" transform="translate(27.7,302) rotate(-90) scale(1,0.96)">Intensity (Arb. unit)</text>
<text class="t" x="187.5" y="432.9" font-size="28">Raman Shift</text>
<text class="t" x="346.5" y="433.3" font-size="38">(</text>
<text class="t" x="359" y="432.9" font-size="30">cm</text>
<text class="t" x="395" y="413.3" font-size="17">-</text>
<text class="t" x="402.2" y="413.3" font-size="17">1</text>
<text class="t" x="409.4" y="433.1" font-size="38">)</text>
<text x="274" y="476" font-family="Liberation Serif,serif" font-size="24">(<tspan font-weight="bold" font-size="21.5">a</tspan>)</text>
</svg>
</body></html>
